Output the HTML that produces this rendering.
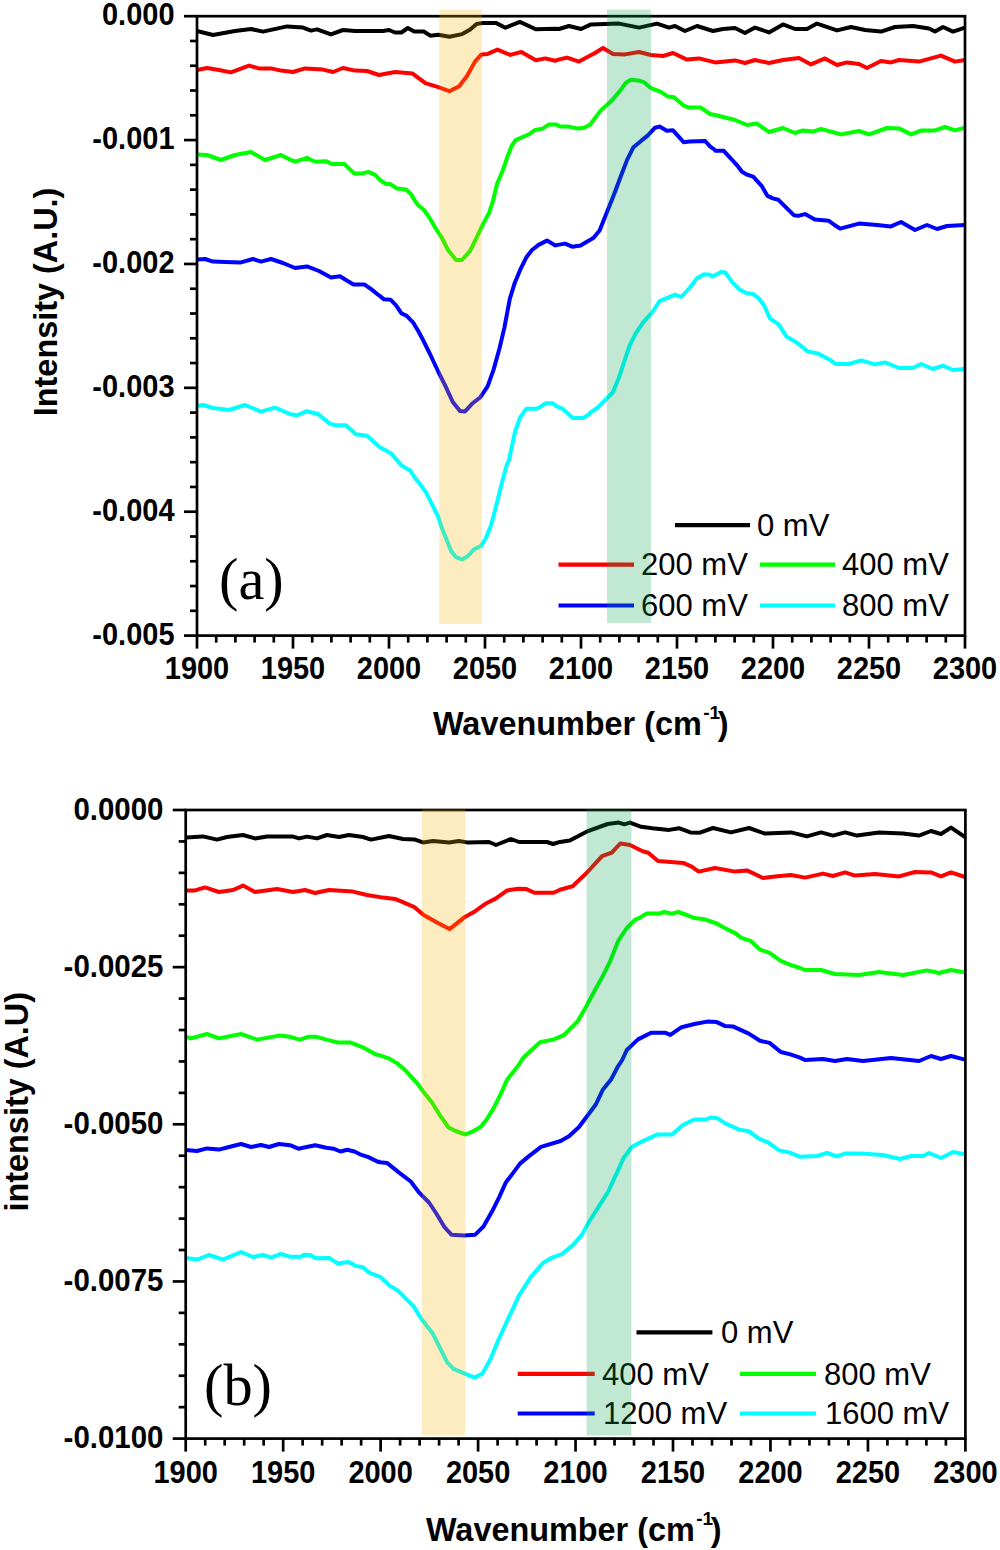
<!DOCTYPE html>
<html><head><meta charset="utf-8"><style>
html,body{margin:0;padding:0;background:#fff;}
svg{display:block;}
.tl{font-family:"Liberation Sans",sans-serif;font-weight:bold;font-size:31.5px;fill:#000;}
.lg{font-family:"Liberation Sans",sans-serif;font-size:31px;fill:#000;}
.tt{font-family:"Liberation Sans",sans-serif;font-weight:bold;font-size:32.4px;fill:#000;}
.tag{font-family:"Liberation Serif",serif;font-size:58.3px;fill:#000;}
</style></head><body>
<svg width="1000" height="1550" viewBox="0 0 1000 1550">
<rect width="1000" height="1550" fill="#fff"/>
<polyline points="197.0,31.0 213.0,35.0 235.0,31.0 251.0,29.0 263.0,31.6 287.0,26.4 303.0,27.6 311.0,30.6 317.0,29.4 331.0,34.4 343.0,30.0 355.0,31.0 383.0,31.0 389.0,30.0 395.0,32.5 401.4,32.5 407.8,28.0 414.2,31.5 423.8,31.5 430.2,35.7 438.2,34.7 449.4,36.8 462.2,34.1 470.2,29.6 476.6,24.0 483.0,22.9 495.8,22.9 505.4,27.7 519.8,21.9 535.8,29.3 555.0,28.8 559.0,29.0 569.0,26.0 581.0,29.0 591.0,24.4 619.0,23.6 639.0,27.6 657.0,23.6 669.0,27.6 675.0,26.0 685.0,31.0 697.0,26.0 713.0,31.0 723.0,29.0 735.0,28.0 745.0,33.0 755.0,27.6 769.0,32.4 783.0,24.4 795.0,29.0 807.0,29.0 817.0,23.6 837.0,30.4 851.0,27.0 865.0,30.0 881.0,31.6 895.0,27.0 913.0,26.0 929.0,28.4 935.0,31.6 943.0,27.0 953.0,31.6 965.0,27.6" fill="none" stroke="#000000" stroke-width="4.0" stroke-linejoin="round" stroke-linecap="butt"/>
<polyline points="197.0,70.0 207.0,68.0 219.0,70.0 231.0,72.4 249.0,65.6 259.0,68.4 271.0,68.4 281.0,70.6 293.0,72.0 305.0,68.4 323.0,69.6 333.0,72.0 343.0,68.0 355.0,70.6 367.0,71.0 379.0,75.0 395.0,72.0 412.6,73.6 425.4,83.2 438.2,87.2 449.4,91.2 459.0,86.4 467.0,76.0 475.0,61.6 481.4,54.4 487.8,53.9 497.4,49.6 510.2,54.9 521.4,52.0 535.8,60.3 545.4,58.4 555.0,60.8 557.0,60.0 567.0,57.6 579.0,61.6 595.0,53.0 603.0,48.0 613.0,54.0 625.0,54.4 639.0,52.0 651.0,55.0 663.0,56.0 673.0,53.0 687.0,59.6 699.0,58.4 715.0,62.4 735.0,60.4 745.0,63.0 755.0,60.0 769.0,63.0 783.0,60.0 799.0,58.0 811.0,64.4 825.0,58.4 837.0,65.0 847.0,62.4 859.0,64.0 867.0,68.0 881.0,61.0 891.0,62.4 899.0,60.0 919.0,61.6 941.0,55.6 955.0,61.6 965.0,60.0" fill="none" stroke="#ff0000" stroke-width="4.0" stroke-linejoin="round" stroke-linecap="butt"/>
<polyline points="197.0,154.4 207.0,155.0 221.0,160.0 235.0,155.0 251.0,152.0 265.0,160.0 281.0,155.0 290.0,159.6 295.6,161.7 306.8,157.9 315.2,161.7 326.4,161.3 332.0,164.1 344.6,164.1 354.4,173.6 361.4,173.6 368.4,171.9 375.4,175.0 380.0,180.0 386.0,184.0 390.0,184.0 397.0,188.5 406.0,189.5 411.0,194.0 415.0,201.0 418.0,205.0 424.0,210.0 429.0,217.0 436.0,229.0 442.0,238.0 448.0,250.0 456.0,260.0 462.0,260.0 470.0,251.0 476.0,239.0 481.7,226.6 489.0,213.0 493.0,201.0 497.0,184.0 503.0,170.0 507.5,156.4 511.6,146.0 515.7,140.0 522.0,137.3 530.0,133.7 535.0,130.0 542.6,128.6 549.0,124.4 556.0,124.4 560.0,126.5 565.0,126.4 568.6,126.6 578.2,128.6 584.2,127.8 590.0,124.8 600.8,110.4 611.6,100.8 618.8,92.4 626.0,82.8 630.8,79.8 638.0,80.4 644.0,82.2 651.2,88.2 660.8,91.8 668.0,96.6 674.0,97.2 683.6,105.6 688.4,107.4 700.4,107.4 710.0,114.0 715.0,115.0 735.0,120.0 747.0,125.0 757.0,123.6 769.0,132.0 783.0,128.0 795.0,133.0 803.0,130.4 813.0,131.6 821.0,129.0 841.0,134.4 859.0,131.0 869.0,134.4 887.0,128.0 899.0,128.4 911.0,134.4 921.0,130.6 935.0,130.4 945.0,127.0 955.0,130.4 965.0,127.6" fill="none" stroke="#00ff00" stroke-width="4.0" stroke-linejoin="round" stroke-linecap="butt"/>
<polyline points="197.0,259.6 205.0,259.0 213.0,261.6 225.0,262.0 241.0,262.4 253.0,259.0 261.0,261.6 271.0,259.0 283.0,263.0 295.0,268.0 307.0,266.4 319.0,271.0 331.0,277.6 340.0,276.3 347.2,280.8 353.5,284.4 364.3,284.4 371.5,289.4 378.7,295.2 384.1,299.3 390.5,299.7 395.9,305.1 401.3,313.2 406.7,315.9 413.0,322.3 418.4,331.3 421.6,337.2 430.0,354.0 438.4,372.0 445.6,386.4 452.8,402.0 460.0,411.0 464.8,411.6 472.0,403.8 480.4,397.2 487.6,386.4 493.6,369.6 499.6,348.0 504.4,327.6 509.8,298.9 514.6,283.3 520.6,268.9 526.6,256.9 532.0,250.0 538.6,244.9 547.0,240.6 555.4,245.4 565.0,243.6 572.2,246.7 580.6,245.4 589.0,240.6 593.6,237.7 599.6,230.5 606.8,212.5 614.0,194.5 621.2,175.2 627.2,159.6 633.2,147.6 641.6,140.4 647.6,135.6 654.8,127.8 659.6,126.6 666.8,130.8 672.8,130.2 683.6,142.2 689.6,141.6 705.2,141.0 710.0,146.4 715.0,150.0 715.4,150.8 723.8,150.8 737.8,166.2 742.0,171.8 747.6,174.9 753.2,176.7 761.6,185.8 767.2,195.6 772.8,198.4 778.4,199.8 793.8,215.2 798.0,215.9 805.0,214.1 814.8,219.4 828.9,220.8 834.5,225.0 840.0,228.5 841.0,228.4 859.0,223.6 877.0,225.0 891.0,226.4 901.0,222.0 915.0,230.0 927.0,225.0 937.0,229.0 947.0,226.0 965.0,225.0" fill="none" stroke="#0000ff" stroke-width="4.0" stroke-linejoin="round" stroke-linecap="butt"/>
<polyline points="197.0,406.0 203.0,405.0 213.0,408.0 229.0,410.0 245.0,405.0 261.0,411.6 275.0,407.6 290.0,414.0 297.0,415.4 306.8,411.2 318.0,414.0 329.2,423.1 334.8,425.2 346.0,425.2 355.8,434.3 367.0,435.7 379.6,446.9 390.8,453.2 402.0,465.8 410.4,470.7 415.0,478.0 420.0,484.0 426.0,492.4 432.0,504.4 438.0,516.4 441.6,527.2 446.4,539.2 451.2,551.2 456.0,557.2 462.0,559.4 468.0,556.0 474.0,549.4 481.2,545.8 486.0,538.0 490.8,526.0 494.4,512.8 498.0,498.4 501.6,484.0 506.4,466.0 509.0,460.0 515.0,432.0 520.0,417.6 526.4,408.8 536.0,408.8 540.0,407.2 545.6,403.2 552.8,403.2 556.8,406.4 562.4,408.8 568.0,413.6 572.8,418.0 583.2,418.0 588.8,414.4 590.0,412.9 597.2,408.0 604.4,400.9 612.8,392.5 618.8,378.0 624.8,360.0 629.6,345.6 635.6,333.6 642.8,322.8 652.4,312.0 659.6,301.2 668.0,297.6 675.2,294.6 681.2,297.0 689.6,288.0 696.8,278.4 704.0,274.2 710.0,274.8 712.6,276.6 721.0,272.1 725.2,272.4 732.2,282.2 739.2,289.2 746.2,293.1 753.2,294.1 758.8,298.3 764.4,306.0 770.0,318.6 778.4,324.2 786.8,336.8 796.6,342.4 807.8,351.5 817.6,353.4 828.9,359.2 835.9,364.1 840.0,364.1 849.0,364.0 861.0,360.4 875.0,364.4 885.0,362.4 899.0,368.0 913.0,368.0 921.0,364.0 933.0,369.0 943.0,365.6 953.0,370.0 965.0,369.0" fill="none" stroke="#00ffff" stroke-width="4.0" stroke-linejoin="round" stroke-linecap="butt"/>
<rect x="197" y="16.2" width="768" height="619.4" fill="none" stroke="#000" stroke-width="2.7"/>
<line x1="184" y1="16.20" x2="197" y2="16.20" stroke="#000" stroke-width="2.7"/>
<line x1="190" y1="40.98" x2="197" y2="40.98" stroke="#000" stroke-width="2.7"/>
<line x1="190" y1="65.75" x2="197" y2="65.75" stroke="#000" stroke-width="2.7"/>
<line x1="190" y1="90.53" x2="197" y2="90.53" stroke="#000" stroke-width="2.7"/>
<line x1="190" y1="115.30" x2="197" y2="115.30" stroke="#000" stroke-width="2.7"/>
<line x1="184" y1="140.08" x2="197" y2="140.08" stroke="#000" stroke-width="2.7"/>
<line x1="190" y1="164.86" x2="197" y2="164.86" stroke="#000" stroke-width="2.7"/>
<line x1="190" y1="189.63" x2="197" y2="189.63" stroke="#000" stroke-width="2.7"/>
<line x1="190" y1="214.41" x2="197" y2="214.41" stroke="#000" stroke-width="2.7"/>
<line x1="190" y1="239.18" x2="197" y2="239.18" stroke="#000" stroke-width="2.7"/>
<line x1="184" y1="263.96" x2="197" y2="263.96" stroke="#000" stroke-width="2.7"/>
<line x1="190" y1="288.74" x2="197" y2="288.74" stroke="#000" stroke-width="2.7"/>
<line x1="190" y1="313.51" x2="197" y2="313.51" stroke="#000" stroke-width="2.7"/>
<line x1="190" y1="338.29" x2="197" y2="338.29" stroke="#000" stroke-width="2.7"/>
<line x1="190" y1="363.06" x2="197" y2="363.06" stroke="#000" stroke-width="2.7"/>
<line x1="184" y1="387.84" x2="197" y2="387.84" stroke="#000" stroke-width="2.7"/>
<line x1="190" y1="412.62" x2="197" y2="412.62" stroke="#000" stroke-width="2.7"/>
<line x1="190" y1="437.39" x2="197" y2="437.39" stroke="#000" stroke-width="2.7"/>
<line x1="190" y1="462.17" x2="197" y2="462.17" stroke="#000" stroke-width="2.7"/>
<line x1="190" y1="486.94" x2="197" y2="486.94" stroke="#000" stroke-width="2.7"/>
<line x1="184" y1="511.72" x2="197" y2="511.72" stroke="#000" stroke-width="2.7"/>
<line x1="190" y1="536.50" x2="197" y2="536.50" stroke="#000" stroke-width="2.7"/>
<line x1="190" y1="561.27" x2="197" y2="561.27" stroke="#000" stroke-width="2.7"/>
<line x1="190" y1="586.05" x2="197" y2="586.05" stroke="#000" stroke-width="2.7"/>
<line x1="190" y1="610.82" x2="197" y2="610.82" stroke="#000" stroke-width="2.7"/>
<line x1="184" y1="635.60" x2="197" y2="635.60" stroke="#000" stroke-width="2.7"/>
<line x1="197.00" y1="635.6" x2="197.00" y2="648.6" stroke="#000" stroke-width="2.7"/>
<line x1="216.20" y1="635.6" x2="216.20" y2="642.6" stroke="#000" stroke-width="2.7"/>
<line x1="235.40" y1="635.6" x2="235.40" y2="642.6" stroke="#000" stroke-width="2.7"/>
<line x1="254.60" y1="635.6" x2="254.60" y2="642.6" stroke="#000" stroke-width="2.7"/>
<line x1="273.80" y1="635.6" x2="273.80" y2="642.6" stroke="#000" stroke-width="2.7"/>
<line x1="293.00" y1="635.6" x2="293.00" y2="648.6" stroke="#000" stroke-width="2.7"/>
<line x1="312.20" y1="635.6" x2="312.20" y2="642.6" stroke="#000" stroke-width="2.7"/>
<line x1="331.40" y1="635.6" x2="331.40" y2="642.6" stroke="#000" stroke-width="2.7"/>
<line x1="350.60" y1="635.6" x2="350.60" y2="642.6" stroke="#000" stroke-width="2.7"/>
<line x1="369.80" y1="635.6" x2="369.80" y2="642.6" stroke="#000" stroke-width="2.7"/>
<line x1="389.00" y1="635.6" x2="389.00" y2="648.6" stroke="#000" stroke-width="2.7"/>
<line x1="408.20" y1="635.6" x2="408.20" y2="642.6" stroke="#000" stroke-width="2.7"/>
<line x1="427.40" y1="635.6" x2="427.40" y2="642.6" stroke="#000" stroke-width="2.7"/>
<line x1="446.60" y1="635.6" x2="446.60" y2="642.6" stroke="#000" stroke-width="2.7"/>
<line x1="465.80" y1="635.6" x2="465.80" y2="642.6" stroke="#000" stroke-width="2.7"/>
<line x1="485.00" y1="635.6" x2="485.00" y2="648.6" stroke="#000" stroke-width="2.7"/>
<line x1="504.20" y1="635.6" x2="504.20" y2="642.6" stroke="#000" stroke-width="2.7"/>
<line x1="523.40" y1="635.6" x2="523.40" y2="642.6" stroke="#000" stroke-width="2.7"/>
<line x1="542.60" y1="635.6" x2="542.60" y2="642.6" stroke="#000" stroke-width="2.7"/>
<line x1="561.80" y1="635.6" x2="561.80" y2="642.6" stroke="#000" stroke-width="2.7"/>
<line x1="581.00" y1="635.6" x2="581.00" y2="648.6" stroke="#000" stroke-width="2.7"/>
<line x1="600.20" y1="635.6" x2="600.20" y2="642.6" stroke="#000" stroke-width="2.7"/>
<line x1="619.40" y1="635.6" x2="619.40" y2="642.6" stroke="#000" stroke-width="2.7"/>
<line x1="638.60" y1="635.6" x2="638.60" y2="642.6" stroke="#000" stroke-width="2.7"/>
<line x1="657.80" y1="635.6" x2="657.80" y2="642.6" stroke="#000" stroke-width="2.7"/>
<line x1="677.00" y1="635.6" x2="677.00" y2="648.6" stroke="#000" stroke-width="2.7"/>
<line x1="696.20" y1="635.6" x2="696.20" y2="642.6" stroke="#000" stroke-width="2.7"/>
<line x1="715.40" y1="635.6" x2="715.40" y2="642.6" stroke="#000" stroke-width="2.7"/>
<line x1="734.60" y1="635.6" x2="734.60" y2="642.6" stroke="#000" stroke-width="2.7"/>
<line x1="753.80" y1="635.6" x2="753.80" y2="642.6" stroke="#000" stroke-width="2.7"/>
<line x1="773.00" y1="635.6" x2="773.00" y2="648.6" stroke="#000" stroke-width="2.7"/>
<line x1="792.20" y1="635.6" x2="792.20" y2="642.6" stroke="#000" stroke-width="2.7"/>
<line x1="811.40" y1="635.6" x2="811.40" y2="642.6" stroke="#000" stroke-width="2.7"/>
<line x1="830.60" y1="635.6" x2="830.60" y2="642.6" stroke="#000" stroke-width="2.7"/>
<line x1="849.80" y1="635.6" x2="849.80" y2="642.6" stroke="#000" stroke-width="2.7"/>
<line x1="869.00" y1="635.6" x2="869.00" y2="648.6" stroke="#000" stroke-width="2.7"/>
<line x1="888.20" y1="635.6" x2="888.20" y2="642.6" stroke="#000" stroke-width="2.7"/>
<line x1="907.40" y1="635.6" x2="907.40" y2="642.6" stroke="#000" stroke-width="2.7"/>
<line x1="926.60" y1="635.6" x2="926.60" y2="642.6" stroke="#000" stroke-width="2.7"/>
<line x1="945.80" y1="635.6" x2="945.80" y2="642.6" stroke="#000" stroke-width="2.7"/>
<line x1="965.00" y1="635.6" x2="965.00" y2="648.6" stroke="#000" stroke-width="2.7"/>
<g transform="translate(174.5,25.2) scale(0.92,1)"><text x="0" y="0" text-anchor="end" class="tl">0.000</text></g>
<g transform="translate(174.5,149.1) scale(0.92,1)"><text x="0" y="0" text-anchor="end" class="tl">-0.001</text></g>
<g transform="translate(174.5,273.0) scale(0.92,1)"><text x="0" y="0" text-anchor="end" class="tl">-0.002</text></g>
<g transform="translate(174.5,396.8) scale(0.92,1)"><text x="0" y="0" text-anchor="end" class="tl">-0.003</text></g>
<g transform="translate(174.5,520.7) scale(0.92,1)"><text x="0" y="0" text-anchor="end" class="tl">-0.004</text></g>
<g transform="translate(174.5,644.6) scale(0.92,1)"><text x="0" y="0" text-anchor="end" class="tl">-0.005</text></g>
<g transform="translate(197.0,678.6) scale(0.92,1)"><text x="0" y="0" text-anchor="middle" class="tl">1900</text></g>
<g transform="translate(293.0,678.6) scale(0.92,1)"><text x="0" y="0" text-anchor="middle" class="tl">1950</text></g>
<g transform="translate(389.0,678.6) scale(0.92,1)"><text x="0" y="0" text-anchor="middle" class="tl">2000</text></g>
<g transform="translate(485.0,678.6) scale(0.92,1)"><text x="0" y="0" text-anchor="middle" class="tl">2050</text></g>
<g transform="translate(581.0,678.6) scale(0.92,1)"><text x="0" y="0" text-anchor="middle" class="tl">2100</text></g>
<g transform="translate(677.0,678.6) scale(0.92,1)"><text x="0" y="0" text-anchor="middle" class="tl">2150</text></g>
<g transform="translate(773.0,678.6) scale(0.92,1)"><text x="0" y="0" text-anchor="middle" class="tl">2200</text></g>
<g transform="translate(869.0,678.6) scale(0.92,1)"><text x="0" y="0" text-anchor="middle" class="tl">2250</text></g>
<g transform="translate(965.0,678.6) scale(0.92,1)"><text x="0" y="0" text-anchor="middle" class="tl">2300</text></g>
<line x1="675" y1="525.0999999999999" x2="750" y2="525.0999999999999" stroke="#000" stroke-width="4.2"/>
<text x="757" y="535.8" class="lg">0 mV</text>
<line x1="558.5" y1="564.6999999999999" x2="634" y2="564.6999999999999" stroke="#f00" stroke-width="4.2"/>
<text x="641" y="575.4" class="lg">200 mV</text>
<line x1="760" y1="564.6999999999999" x2="835" y2="564.6999999999999" stroke="#0f0" stroke-width="4.2"/>
<text x="842" y="575.4" class="lg">400 mV</text>
<line x1="558.5" y1="605.5" x2="634" y2="605.5" stroke="#00f" stroke-width="4.2"/>
<text x="641" y="616.2" class="lg">600 mV</text>
<line x1="760" y1="605.5" x2="835" y2="605.5" stroke="#0ff" stroke-width="4.2"/>
<text x="842" y="616.2" class="lg">800 mV</text>
<text x="219" y="598.5" class="tag">(a)</text>
<text x="433" y="735" class="tt">Wavenumber (cm<tspan dx="1.5" dy="-16" font-size="19">-1</tspan><tspan dx="-2.5" dy="16">)</tspan></text>
<text transform="translate(57,416.2) rotate(-90)" x="0" y="0" class="tt">Intensity (A.U.)</text>
<rect x="439.3" y="9.6" width="42.6" height="614.4" fill="rgba(248,180,0,0.25)"/>
<rect x="607" y="9.6" width="44.0" height="613.4" fill="rgba(4,164,76,0.25)"/>
<polyline points="186.0,837.6 203.0,836.4 217.0,839.6 227.0,837.0 243.0,835.0 255.0,838.4 267.0,836.6 293.0,836.6 299.0,838.4 307.0,836.6 317.0,838.4 327.0,835.0 339.0,837.0 349.0,835.0 363.0,837.0 371.0,839.6 389.0,836.0 403.0,839.0 415.0,839.6 423.0,842.4 433.0,841.0 449.0,842.4 459.0,841.0 467.0,842.4 489.0,842.0 496.0,845.0 511.0,839.0 519.0,842.0 547.0,842.0 553.0,844.0 560.0,841.9 569.8,840.5 586.6,831.7 607.6,824.0 618.8,822.6 624.4,824.3 630.0,822.6 641.2,826.8 652.4,828.2 669.2,829.9 679.0,828.2 690.3,832.4 700.0,832.7 713.0,828.0 731.0,832.4 749.0,828.0 765.0,833.6 791.0,832.4 807.0,836.4 821.0,832.4 833.0,835.6 845.0,832.4 857.0,835.6 879.0,832.4 903.0,833.6 919.0,835.6 931.0,831.0 941.0,834.0 951.0,827.6 965.0,837.0" fill="none" stroke="#000000" stroke-width="4.0" stroke-linejoin="round" stroke-linecap="butt"/>
<polyline points="186.0,890.4 195.0,890.4 205.0,887.4 219.0,892.0 233.0,890.0 243.0,885.6 255.0,892.0 277.0,889.0 293.0,892.0 305.0,890.0 315.0,893.0 329.0,890.0 353.0,891.6 367.0,895.0 383.0,897.6 395.0,899.0 400.0,900.8 414.4,907.2 424.0,915.2 438.4,923.2 449.6,929.1 464.0,917.6 475.2,911.2 486.4,903.2 496.0,898.4 507.2,890.4 518.4,888.8 526.4,889.1 534.4,892.8 553.6,892.8 560.0,889.8 572.6,886.3 586.6,873.0 602.0,856.2 611.8,852.7 620.2,843.6 630.0,845.0 642.6,851.3 648.2,852.7 658.0,861.1 683.2,862.9 691.7,866.7 698.7,871.6 715.0,868.0 735.0,871.6 747.0,870.4 763.0,878.0 775.0,876.4 791.0,875.0 805.0,877.6 823.0,873.6 833.0,876.0 845.0,872.4 855.0,875.6 875.0,874.0 899.0,876.4 915.0,872.0 931.0,872.4 941.0,876.4 951.0,872.4 965.0,877.0" fill="none" stroke="#ff0000" stroke-width="4.0" stroke-linejoin="round" stroke-linecap="butt"/>
<polyline points="186.0,1037.0 191.0,1038.4 207.0,1034.0 219.0,1038.4 241.0,1034.0 257.0,1039.6 279.0,1035.6 290.0,1036.8 299.8,1039.6 308.2,1036.8 316.6,1036.8 326.4,1039.6 337.6,1042.4 350.2,1042.4 362.8,1047.3 375.4,1054.3 380.0,1055.4 389.8,1058.9 396.8,1063.1 405.2,1070.1 417.8,1084.1 423.4,1091.8 431.8,1102.3 440.2,1115.6 448.6,1127.5 455.6,1131.0 465.4,1134.5 472.4,1131.7 480.8,1126.8 486.4,1119.8 493.4,1108.6 500.4,1094.6 507.4,1079.2 513.0,1072.2 520.0,1063.1 523.0,1058.0 540.0,1042.2 554.0,1039.4 563.8,1035.2 577.8,1021.1 586.2,1006.4 596.0,988.2 603.0,975.6 610.0,961.6 618.4,940.6 626.8,928.0 635.2,919.6 640.0,917.6 646.4,913.6 659.2,913.6 664.0,912.0 672.0,913.6 678.4,912.0 688.0,915.5 694.4,918.1 704.0,919.2 716.8,923.5 723.2,927.2 736.0,933.6 740.8,937.6 750.4,940.8 760.0,949.6 769.6,952.8 780.8,960.8 790.4,964.8 800.0,968.0 805.0,970.0 821.0,970.0 835.0,974.0 859.0,975.0 879.0,972.0 903.0,975.0 927.0,970.4 939.0,973.0 951.0,970.0 965.0,972.4" fill="none" stroke="#00ff00" stroke-width="4.0" stroke-linejoin="round" stroke-linecap="butt"/>
<polyline points="186.0,1150.0 197.0,1151.0 207.0,1148.4 219.0,1149.6 229.0,1147.0 241.0,1144.0 251.0,1147.0 261.0,1145.0 269.0,1147.0 279.0,1144.0 290.0,1145.2 298.4,1148.7 305.4,1147.3 315.2,1145.2 326.4,1147.7 333.4,1148.7 340.4,1151.5 347.4,1149.7 354.4,1151.5 360.0,1154.3 368.4,1157.1 378.2,1162.0 379.0,1161.6 380.0,1162.3 387.0,1162.9 395.4,1169.6 402.4,1175.2 410.8,1181.5 419.2,1192.7 429.0,1202.5 436.0,1213.0 444.4,1227.0 451.4,1234.7 464.0,1235.4 475.2,1234.7 483.6,1226.3 492.0,1211.6 499.0,1197.6 506.0,1182.2 513.0,1173.1 520.0,1163.6 528.4,1156.6 541.0,1146.8 560.6,1141.0 569.0,1136.3 578.8,1127.2 587.2,1116.0 595.6,1104.8 602.6,1090.1 611.0,1079.6 618.0,1066.3 622.2,1060.0 626.8,1050.0 638.0,1039.4 640.0,1038.4 651.2,1032.8 665.6,1032.8 670.4,1034.9 681.6,1027.2 694.4,1024.0 707.2,1021.6 716.8,1022.1 724.8,1025.9 732.8,1026.4 748.8,1033.6 760.0,1040.8 769.6,1042.9 780.8,1052.0 790.4,1054.4 800.0,1057.6 805.0,1060.0 823.0,1059.0 835.0,1061.0 847.0,1059.0 863.0,1061.0 891.0,1058.0 919.0,1061.0 931.0,1056.0 941.0,1059.0 951.0,1056.0 965.0,1059.6" fill="none" stroke="#0000ff" stroke-width="4.0" stroke-linejoin="round" stroke-linecap="butt"/>
<polyline points="186.0,1258.0 197.0,1259.6 209.0,1255.0 223.0,1259.6 241.0,1252.0 253.0,1257.0 263.0,1255.0 271.0,1257.6 281.0,1254.0 290.0,1256.8 301.2,1256.8 304.0,1254.7 311.0,1255.1 315.2,1258.2 329.2,1257.9 337.6,1263.5 344.6,1262.4 348.8,1262.1 355.8,1265.9 362.8,1267.3 369.8,1272.9 380.0,1276.8 389.6,1285.6 397.6,1290.4 413.6,1306.4 421.6,1319.2 432.8,1333.6 439.2,1346.4 447.2,1362.4 453.6,1368.8 464.8,1373.6 474.4,1377.6 482.4,1373.6 490.4,1359.2 498.4,1340.0 508.0,1319.2 519.2,1295.2 530.4,1277.6 540.0,1266.4 543.0,1263.0 550.8,1258.2 562.0,1254.0 573.2,1244.9 581.6,1235.1 588.6,1222.5 598.4,1207.1 608.2,1191.7 616.6,1173.4 623.6,1158.0 632.0,1146.8 640.0,1142.4 657.6,1134.4 672.0,1134.4 683.2,1124.8 694.4,1119.5 705.6,1119.5 710.4,1117.6 716.8,1117.9 724.8,1123.2 739.2,1129.6 748.8,1131.2 758.4,1138.4 768.0,1142.4 779.2,1150.4 790.4,1152.8 800.0,1156.8 817.0,1156.0 827.0,1153.0 837.0,1156.4 845.0,1153.6 861.0,1153.6 883.0,1155.0 900.0,1159.0 911.0,1156.0 923.0,1156.0 929.0,1153.0 941.0,1158.0 953.0,1152.0 965.0,1154.4" fill="none" stroke="#00ffff" stroke-width="4.0" stroke-linejoin="round" stroke-linecap="butt"/>
<rect x="185.7" y="810" width="779.7" height="628.5999999999999" fill="none" stroke="#000" stroke-width="2.7"/>
<line x1="172.7" y1="810.00" x2="185.7" y2="810.00" stroke="#000" stroke-width="2.7"/>
<line x1="178.7" y1="841.43" x2="185.7" y2="841.43" stroke="#000" stroke-width="2.7"/>
<line x1="178.7" y1="872.86" x2="185.7" y2="872.86" stroke="#000" stroke-width="2.7"/>
<line x1="178.7" y1="904.29" x2="185.7" y2="904.29" stroke="#000" stroke-width="2.7"/>
<line x1="178.7" y1="935.72" x2="185.7" y2="935.72" stroke="#000" stroke-width="2.7"/>
<line x1="172.7" y1="967.15" x2="185.7" y2="967.15" stroke="#000" stroke-width="2.7"/>
<line x1="178.7" y1="998.58" x2="185.7" y2="998.58" stroke="#000" stroke-width="2.7"/>
<line x1="178.7" y1="1030.01" x2="185.7" y2="1030.01" stroke="#000" stroke-width="2.7"/>
<line x1="178.7" y1="1061.44" x2="185.7" y2="1061.44" stroke="#000" stroke-width="2.7"/>
<line x1="178.7" y1="1092.87" x2="185.7" y2="1092.87" stroke="#000" stroke-width="2.7"/>
<line x1="172.7" y1="1124.30" x2="185.7" y2="1124.30" stroke="#000" stroke-width="2.7"/>
<line x1="178.7" y1="1155.73" x2="185.7" y2="1155.73" stroke="#000" stroke-width="2.7"/>
<line x1="178.7" y1="1187.16" x2="185.7" y2="1187.16" stroke="#000" stroke-width="2.7"/>
<line x1="178.7" y1="1218.59" x2="185.7" y2="1218.59" stroke="#000" stroke-width="2.7"/>
<line x1="178.7" y1="1250.02" x2="185.7" y2="1250.02" stroke="#000" stroke-width="2.7"/>
<line x1="172.7" y1="1281.45" x2="185.7" y2="1281.45" stroke="#000" stroke-width="2.7"/>
<line x1="178.7" y1="1312.88" x2="185.7" y2="1312.88" stroke="#000" stroke-width="2.7"/>
<line x1="178.7" y1="1344.31" x2="185.7" y2="1344.31" stroke="#000" stroke-width="2.7"/>
<line x1="178.7" y1="1375.74" x2="185.7" y2="1375.74" stroke="#000" stroke-width="2.7"/>
<line x1="178.7" y1="1407.17" x2="185.7" y2="1407.17" stroke="#000" stroke-width="2.7"/>
<line x1="172.7" y1="1438.60" x2="185.7" y2="1438.60" stroke="#000" stroke-width="2.7"/>
<line x1="185.70" y1="1438.6" x2="185.70" y2="1451.6" stroke="#000" stroke-width="2.7"/>
<line x1="205.19" y1="1438.6" x2="205.19" y2="1445.6" stroke="#000" stroke-width="2.7"/>
<line x1="224.69" y1="1438.6" x2="224.69" y2="1445.6" stroke="#000" stroke-width="2.7"/>
<line x1="244.18" y1="1438.6" x2="244.18" y2="1445.6" stroke="#000" stroke-width="2.7"/>
<line x1="263.67" y1="1438.6" x2="263.67" y2="1445.6" stroke="#000" stroke-width="2.7"/>
<line x1="283.16" y1="1438.6" x2="283.16" y2="1451.6" stroke="#000" stroke-width="2.7"/>
<line x1="302.65" y1="1438.6" x2="302.65" y2="1445.6" stroke="#000" stroke-width="2.7"/>
<line x1="322.15" y1="1438.6" x2="322.15" y2="1445.6" stroke="#000" stroke-width="2.7"/>
<line x1="341.64" y1="1438.6" x2="341.64" y2="1445.6" stroke="#000" stroke-width="2.7"/>
<line x1="361.13" y1="1438.6" x2="361.13" y2="1445.6" stroke="#000" stroke-width="2.7"/>
<line x1="380.62" y1="1438.6" x2="380.62" y2="1451.6" stroke="#000" stroke-width="2.7"/>
<line x1="400.12" y1="1438.6" x2="400.12" y2="1445.6" stroke="#000" stroke-width="2.7"/>
<line x1="419.61" y1="1438.6" x2="419.61" y2="1445.6" stroke="#000" stroke-width="2.7"/>
<line x1="439.10" y1="1438.6" x2="439.10" y2="1445.6" stroke="#000" stroke-width="2.7"/>
<line x1="458.59" y1="1438.6" x2="458.59" y2="1445.6" stroke="#000" stroke-width="2.7"/>
<line x1="478.09" y1="1438.6" x2="478.09" y2="1451.6" stroke="#000" stroke-width="2.7"/>
<line x1="497.58" y1="1438.6" x2="497.58" y2="1445.6" stroke="#000" stroke-width="2.7"/>
<line x1="517.07" y1="1438.6" x2="517.07" y2="1445.6" stroke="#000" stroke-width="2.7"/>
<line x1="536.57" y1="1438.6" x2="536.57" y2="1445.6" stroke="#000" stroke-width="2.7"/>
<line x1="556.06" y1="1438.6" x2="556.06" y2="1445.6" stroke="#000" stroke-width="2.7"/>
<line x1="575.55" y1="1438.6" x2="575.55" y2="1451.6" stroke="#000" stroke-width="2.7"/>
<line x1="595.04" y1="1438.6" x2="595.04" y2="1445.6" stroke="#000" stroke-width="2.7"/>
<line x1="614.53" y1="1438.6" x2="614.53" y2="1445.6" stroke="#000" stroke-width="2.7"/>
<line x1="634.03" y1="1438.6" x2="634.03" y2="1445.6" stroke="#000" stroke-width="2.7"/>
<line x1="653.52" y1="1438.6" x2="653.52" y2="1445.6" stroke="#000" stroke-width="2.7"/>
<line x1="673.01" y1="1438.6" x2="673.01" y2="1451.6" stroke="#000" stroke-width="2.7"/>
<line x1="692.50" y1="1438.6" x2="692.50" y2="1445.6" stroke="#000" stroke-width="2.7"/>
<line x1="712.00" y1="1438.6" x2="712.00" y2="1445.6" stroke="#000" stroke-width="2.7"/>
<line x1="731.49" y1="1438.6" x2="731.49" y2="1445.6" stroke="#000" stroke-width="2.7"/>
<line x1="750.98" y1="1438.6" x2="750.98" y2="1445.6" stroke="#000" stroke-width="2.7"/>
<line x1="770.47" y1="1438.6" x2="770.47" y2="1451.6" stroke="#000" stroke-width="2.7"/>
<line x1="789.97" y1="1438.6" x2="789.97" y2="1445.6" stroke="#000" stroke-width="2.7"/>
<line x1="809.46" y1="1438.6" x2="809.46" y2="1445.6" stroke="#000" stroke-width="2.7"/>
<line x1="828.95" y1="1438.6" x2="828.95" y2="1445.6" stroke="#000" stroke-width="2.7"/>
<line x1="848.44" y1="1438.6" x2="848.44" y2="1445.6" stroke="#000" stroke-width="2.7"/>
<line x1="867.94" y1="1438.6" x2="867.94" y2="1451.6" stroke="#000" stroke-width="2.7"/>
<line x1="887.43" y1="1438.6" x2="887.43" y2="1445.6" stroke="#000" stroke-width="2.7"/>
<line x1="906.92" y1="1438.6" x2="906.92" y2="1445.6" stroke="#000" stroke-width="2.7"/>
<line x1="926.41" y1="1438.6" x2="926.41" y2="1445.6" stroke="#000" stroke-width="2.7"/>
<line x1="945.91" y1="1438.6" x2="945.91" y2="1445.6" stroke="#000" stroke-width="2.7"/>
<line x1="965.40" y1="1438.6" x2="965.40" y2="1451.6" stroke="#000" stroke-width="2.7"/>
<g transform="translate(163.5,819.7) scale(0.935,1)"><text x="0" y="0" text-anchor="end" class="tl">0.0000</text></g>
<g transform="translate(163.5,976.9) scale(0.935,1)"><text x="0" y="0" text-anchor="end" class="tl">-0.0025</text></g>
<g transform="translate(163.5,1134.0) scale(0.935,1)"><text x="0" y="0" text-anchor="end" class="tl">-0.0050</text></g>
<g transform="translate(163.5,1291.1) scale(0.935,1)"><text x="0" y="0" text-anchor="end" class="tl">-0.0075</text></g>
<g transform="translate(163.5,1448.3) scale(0.935,1)"><text x="0" y="0" text-anchor="end" class="tl">-0.0100</text></g>
<g transform="translate(185.7,1482.6) scale(0.92,1)"><text x="0" y="0" text-anchor="middle" class="tl">1900</text></g>
<g transform="translate(283.2,1482.6) scale(0.92,1)"><text x="0" y="0" text-anchor="middle" class="tl">1950</text></g>
<g transform="translate(380.6,1482.6) scale(0.92,1)"><text x="0" y="0" text-anchor="middle" class="tl">2000</text></g>
<g transform="translate(478.1,1482.6) scale(0.92,1)"><text x="0" y="0" text-anchor="middle" class="tl">2050</text></g>
<g transform="translate(575.5,1482.6) scale(0.92,1)"><text x="0" y="0" text-anchor="middle" class="tl">2100</text></g>
<g transform="translate(673.0,1482.6) scale(0.92,1)"><text x="0" y="0" text-anchor="middle" class="tl">2150</text></g>
<g transform="translate(770.5,1482.6) scale(0.92,1)"><text x="0" y="0" text-anchor="middle" class="tl">2200</text></g>
<g transform="translate(867.9,1482.6) scale(0.92,1)"><text x="0" y="0" text-anchor="middle" class="tl">2250</text></g>
<g transform="translate(965.4,1482.6) scale(0.92,1)"><text x="0" y="0" text-anchor="middle" class="tl">2300</text></g>
<line x1="636.5" y1="1332.3" x2="712.4" y2="1332.3" stroke="#000" stroke-width="4.2"/>
<text x="721" y="1343" class="lg">0 mV</text>
<line x1="517.7" y1="1373.8999999999999" x2="594.7" y2="1373.8999999999999" stroke="#f00" stroke-width="4.2"/>
<text x="602" y="1384.6" class="lg">400 mV</text>
<line x1="740" y1="1373.8999999999999" x2="816" y2="1373.8999999999999" stroke="#0f0" stroke-width="4.2"/>
<text x="824" y="1384.6" class="lg">800 mV</text>
<line x1="517.7" y1="1413.5" x2="594.7" y2="1413.5" stroke="#00f" stroke-width="4.2"/>
<text x="603" y="1424.2" class="lg">1200 mV</text>
<line x1="740" y1="1413.5" x2="816" y2="1413.5" stroke="#0ff" stroke-width="4.2"/>
<text x="825" y="1424.2" class="lg">1600 mV</text>
<text x="204" y="1405" class="tag">(b)</text>
<text x="426" y="1541" class="tt">Wavenumber (cm<tspan dx="1.5" dy="-16" font-size="19">-1</tspan><tspan dx="-2.5" dy="16">)</tspan></text>
<text transform="translate(27.7,1211.5) rotate(-90)" x="0" y="0" class="tt">intensity (A.U)</text>
<rect x="422" y="809.4" width="43.3" height="626.0" fill="rgba(248,180,0,0.25)"/>
<rect x="586.6" y="809.4" width="44.8" height="626.0" fill="rgba(4,164,76,0.25)"/>
</svg>
</body></html>
